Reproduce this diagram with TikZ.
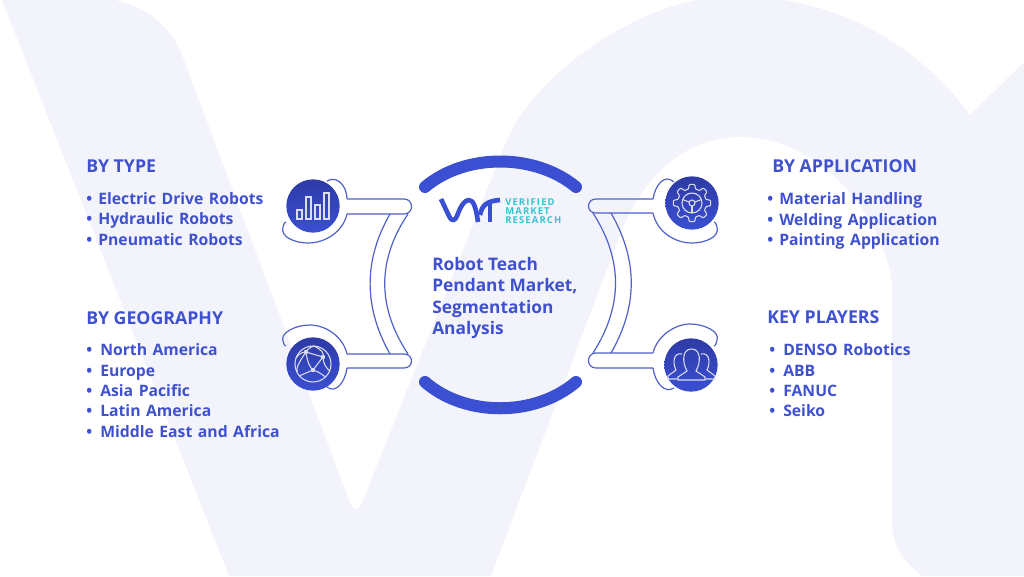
\documentclass[tikz,border=0pt]{standalone}
\usepackage{fontspec}
\setmainfont{Open Sans}
\newfontfamily\listfont[WordSpace=1.35]{Open Sans}
\definecolor{markcolor}{HTML}{F3F4FB}
\definecolor{inkblue}{HTML}{3F51CF}
\definecolor{arcblue}{HTML}{3A4FD2}
\definecolor{icondark}{HTML}{2E3BA6}
\definecolor{linkblue}{HTML}{4F60C8}
\definecolor{iconline}{HTML}{DADDF0}
\definecolor{logoteal}{HTML}{35C4CE}
\newcommand{\itemmark}[1]{\makebox[#1][l]{•}}
\tikzset{
	heading/.style={anchor=base west,inner sep=0pt,text=inkblue,font=\fontsize{13.3}{15}\selectfont\bfseries},
	listitem/.style={anchor=base west,inner sep=0pt,text=inkblue,font=\listfont\fontsize{11.8}{14}\selectfont\bfseries},
	title/.style={anchor=base west,inner sep=0pt,text=inkblue,font=\fontsize{13}{16}\selectfont\bfseries},
	logotext/.style={anchor=base west,inner sep=0pt,text=logoteal,font=\fontsize{7.1}{9}\selectfont\bfseries\addfontfeatures{LetterSpace=12}},
	iconball/.style={circle,inner sep=0pt,minimum size=40pt,top color=icondark,middle color=arcblue,bottom color=arcblue},
	link/.style={draw=linkblue,line width=0.9pt},
	iconstroke/.style={draw=iconline,line width=0.8pt},
	icondot/.style={fill=iconline},
	logostroke/.style={draw=arcblue,line width=3.5pt},
	bigarc/.style={draw=arcblue,line width=9pt,line cap=round}
}
\begin{document}
\begin{tikzpicture}[x=0.75pt,y=-0.75pt]
	\useasboundingbox (0,0) rectangle (1024,576);
	\fill [markcolor] (2,0) -- (115,0) .. controls (145,6) and (170,25) .. (182,55) -- (350,503) .. controls (353,511) and (359,511) .. (362,503) -- (507,140) .. controls (535,75) and (640,-4) .. (735,-4) .. controls (830,-4) and (915,40) .. (970,115) -- (1024,62) -- (1024,576) -- (922,576) .. controls (902,560) and (892,545) .. (892,520) -- (892,290) .. controls (892,240) and (835,137) .. (740,137) .. controls (690,137) and (645,170) .. (620,235) -- (491,576) -- (229,576) -- cycle;

	\draw [bigarc] (425,187) .. controls (465,153) and (535,153) .. (576,187);
	\draw [bigarc] (425,382) .. controls (465,417) and (535,417) .. (576,382);

	\node [iconball] (typeicon) at (313,206) {};
	\node [iconball] (geoicon) at (313,364) {};
	\node [iconball] (appicon) at (692,203) {};
	\node [iconball] (playericon) at (691,365) {};

	\coordinate (typeup) at (347,199);
	\coordinate (typelow) at (347,214);
	\coordinate (geoup) at (347,354);
	\coordinate (geolow) at (347,368);
	\coordinate (appup) at (653,199);
	\coordinate (applow) at (653,213);
	\coordinate (playerup) at (653,353);
	\coordinate (playerlow) at (653,368);

	\draw [link] (typeup) -- (404,199) .. controls (414,199) and (414,214) .. (404,214) -- (typelow);
	\draw [link] (geoup) -- (404,354) .. controls (414,354) and (414,368) .. (404,368) -- (geolow);
	\draw [link] (appup) -- (596,199) .. controls (586,199) and (586,213) .. (596,213) -- (applow);
	\draw [link] (playerup) -- (596,353) .. controls (586,353) and (586,368) .. (596,368) -- (playerlow);

	\draw [link] (typeup) .. controls (347,186) and (337,175) .. (327,181);
	\draw [link] (typelow) .. controls (343,232) and (325,243) .. (308,243) .. controls (295,243) and (280,237) .. (283,227) .. controls (283,224) and (285,222) .. (286,222);
	\draw [link] (geoup) .. controls (343,336) and (325,325) .. (310,325) .. controls (295,325) and (280,333) .. (283,341) .. controls (283,344) and (285,346) .. (286,346);
	\draw [link] (geolow) .. controls (345,382) and (336,394) .. (327,387);
	\draw [link] (appup) .. controls (655,186) and (664,173) .. (674,182);
	\draw [link] (applow) .. controls (657,232) and (675,243) .. (692,243) .. controls (705,243) and (720,237) .. (717,227) .. controls (717,224) and (715,222) .. (714,222);
	\draw [link] (playerup) .. controls (657,336) and (675,324) .. (690,324) .. controls (705,324) and (720,332) .. (717,340) .. controls (717,343) and (715,346) .. (714,346);
	\draw [link] (playerlow) .. controls (655,382) and (664,394) .. (674,388);

	\draw [link] (390,214) .. controls (363.5,260) and (363.5,307) .. (390,354);
	\draw [link] (408,214) .. controls (377,260) and (377,307) .. (408,354);
	\draw [link] (593,213) .. controls (623,260) and (623,306) .. (593,353);
	\draw [link] (611,213) .. controls (638,260) and (638,306) .. (611,353);

	\draw [iconstroke] (297,210) rectangle (302,219);
	\draw [iconstroke] (306,197) rectangle (311,219);
	\draw [iconstroke] (315,205) rectangle (320,219);
	\draw [iconstroke] (324,193) rectangle (329,219);

	\draw [iconstroke] plot [smooth,domain=0:360,samples=145] ({692+(16.5+2.2*tanh(2.5*cos(8*\x)))*cos(\x)},{203+(16.5+2.2*tanh(2.5*cos(8*\x)))*sin(\x)});
	\draw [iconstroke] (692,203) circle (10);
	\draw [iconstroke] (692,203) circle (3);
	\foreach \a in {-20,200,90}
		\draw [iconstroke,shift={(692,203)}] (\a:3) -- (\a:10);

	\draw [iconstroke] (313,364) circle (18);
	\draw [iconstroke] (296,358) .. controls (299,354) and (302,352) .. (306,352) -- (323,357) -- (313,370) -- (299,376);
	\draw [iconstroke] (306,352) .. controls (307,361) and (310,368) .. (313,370);
	\draw [iconstroke] (314,346) .. controls (322,350) and (324,353) .. (323,357) .. controls (323,364) and (327,369) .. (330,371);
	\draw [iconstroke] (313,370) .. controls (320,372) and (325,377) .. (326,377);
	\draw [iconstroke] (306,352) .. controls (299,362) and (296,368) .. (297,372);
	\draw [iconstroke] (306,352) .. controls (307,350) and (310,347) .. (314,346);
	\fill [icondot] (306,352) circle (2.2);
	\fill [icondot] (323,357) circle (2.2);
	\fill [icondot] (313,370) circle (2.2);

	\draw [iconstroke] (678,380) -- (678,377) -- (687,371) .. controls (682,362) and (682,349) .. (691.5,349) .. controls (701,349) and (701,362) .. (696,371) -- (705,377) -- (705,380) -- cycle;
	\draw [iconstroke] (682,354) .. controls (674,352) and (672,362) .. (676,370) -- (668,376) -- (668,379) -- (677,379);
	\draw [iconstroke] (701,354) .. controls (709,352) and (711,362) .. (707,370) -- (715,376) -- (715,379) -- (706,379);

	\draw [logostroke,line join=round] (441,199) -- (449,216) .. controls (452,222) and (455,221) .. (457,216) .. controls (461,205) and (465,200) .. (469,200) .. controls (474,200) and (476,209) .. (478,222);
	\draw [logostroke] (480,215) .. controls (482,205) and (487,201) .. (500,200);
	\draw [logostroke] (490,203) -- (490,222);

	\node [logotext] (verified) at (505,205) {VERIFIED};
	\node [logotext] (market) at (505,214) {MARKET};
	\node [logotext] (research) at (505,223) {RESEARCH};

	\node [title] (title1) at (432,270) {Robot Teach};
	\node [title] (title2) at (432,291.5) {Pendant Market,};
	\node [title] (title3) at (432,313) {Segmentation};
	\node [title] (title4) at (432,334.5) {Analysis};

	\node [heading] (type) at (86,172.5) {BY TYPE};
	\node [listitem] (type1) at (86,204) {\itemmark{9pt}Electric Drive Robots};
	\node [listitem] (type2) at (86,224) {\itemmark{9pt}Hydraulic Robots};
	\node [listitem] (type3) at (86,245) {\itemmark{9pt}Pneumatic Robots};

	\node [heading] (geo) at (86,324.5) {BY GEOGRAPHY};
	\node [listitem] (geo1) at (86,355) {\itemmark{10.5pt}North America};
	\node [listitem] (geo2) at (86,376) {\itemmark{10.5pt}Europe};
	\node [listitem] (geo3) at (86,396) {\itemmark{10.5pt}Asia Pacific};
	\node [listitem] (geo4) at (86,416) {\itemmark{10.5pt}Latin America};
	\node [listitem] (geo5) at (86,437) {\itemmark{10.5pt}Middle East and Africa};

	\node [heading] (app) at (772,172.5) {BY APPLICATION};
	\node [listitem] (app1) at (767,204) {\itemmark{9pt}Material Handling};
	\node [listitem] (app2) at (767,225) {\itemmark{9pt}Welding Application};
	\node [listitem] (app3) at (767,245) {\itemmark{9pt}Painting Application};

	\node [heading] (player) at (767,323.5) {KEY PLAYERS};
	\node [listitem] (player1) at (769,355) {\itemmark{10.5pt}DENSO Robotics};
	\node [listitem] (player2) at (769,376) {\itemmark{10.5pt}ABB};
	\node [listitem] (player3) at (769,396) {\itemmark{10.5pt}FANUC};
	\node [listitem] (player4) at (769,416) {\itemmark{10.5pt}Seiko};
\end{tikzpicture}
\end{document}
